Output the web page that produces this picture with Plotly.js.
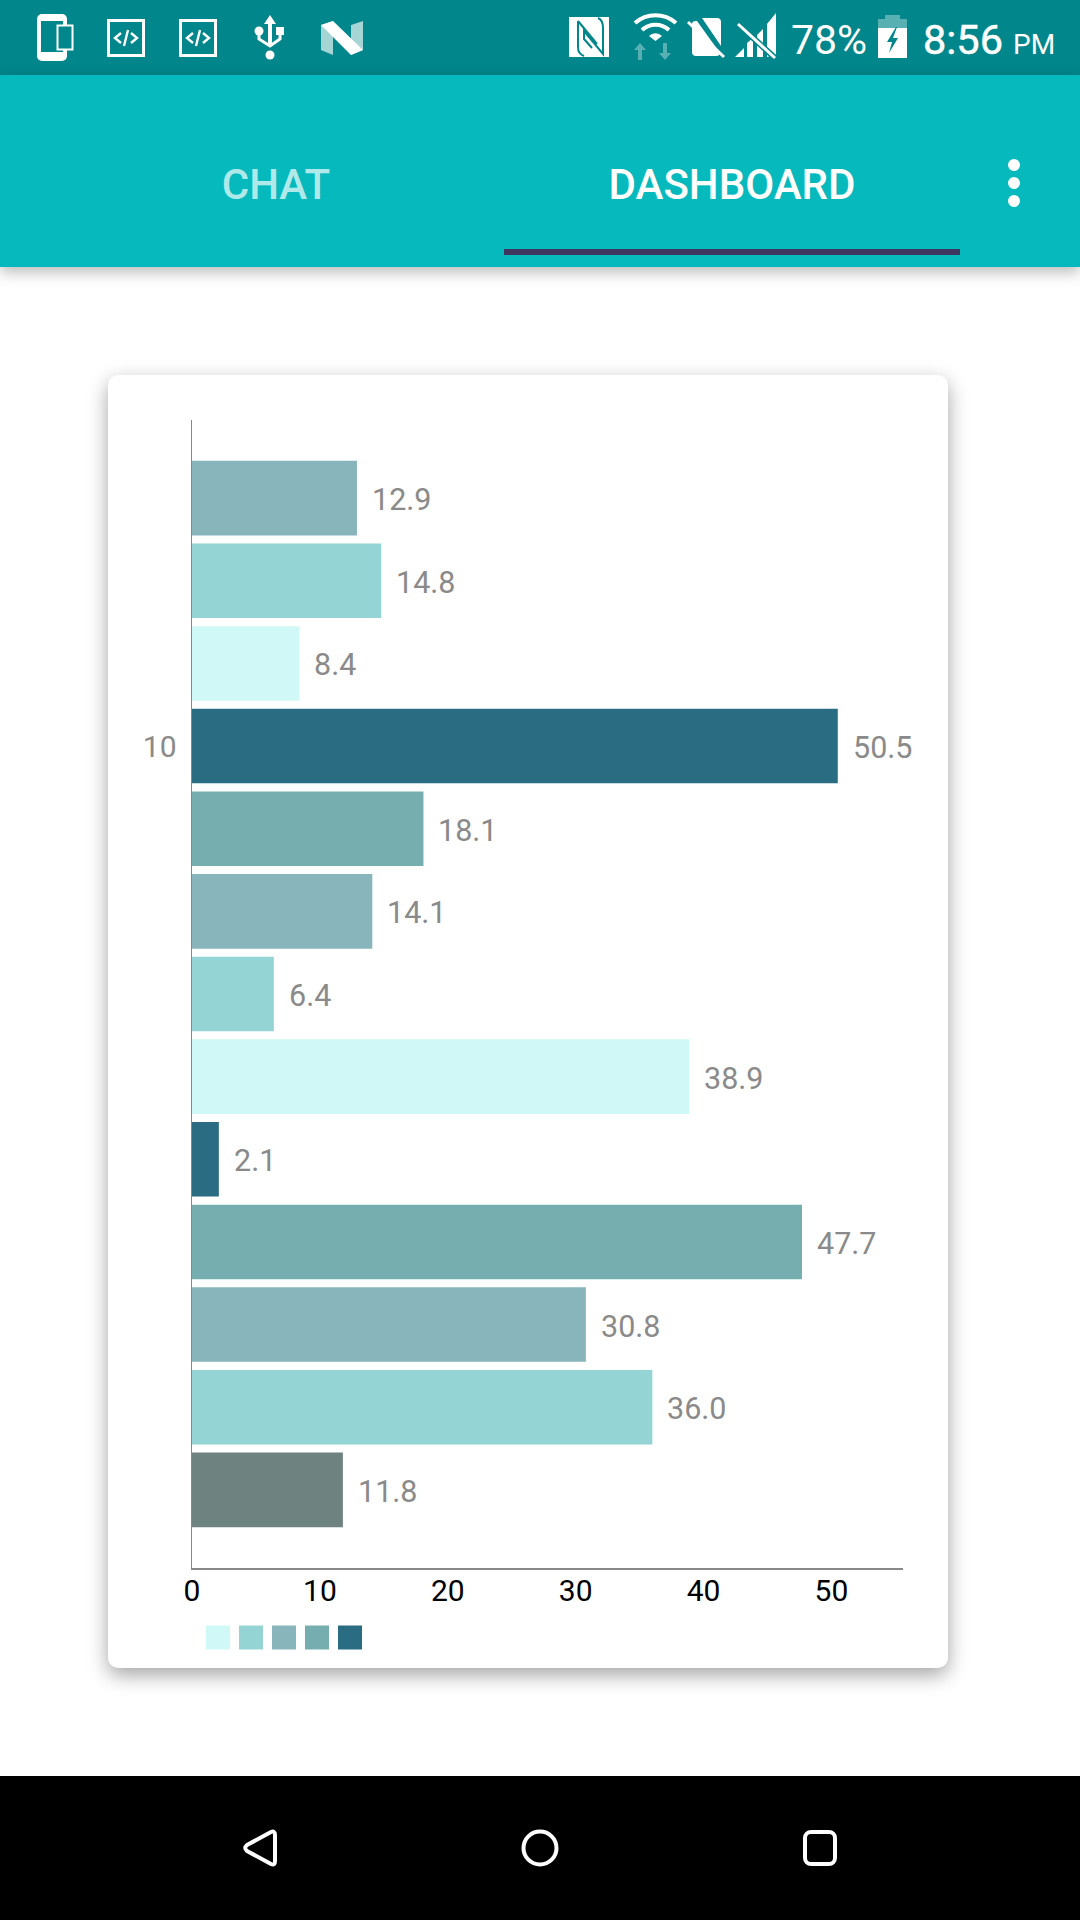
<!DOCTYPE html>
<html><head><meta charset="utf-8">
<script src="https://cdn.plot.ly/plotly-3.0.1.min.js"></script>
<style>
html,body{margin:0;padding:0;background:#fff;width:1080px;height:1920px;overflow:hidden;font-family:Roboto,sans-serif}
#status{position:absolute;left:0;top:0;width:1080px;height:75px;background:#00868b}
#bar{position:absolute;left:0;top:75px;width:1080px;height:192px;background:#05b9bd;box-shadow:0 5px 14px rgba(0,0,0,.28)}
#card{position:absolute;left:108px;top:375px;width:840px;height:1293px;background:#fff;border-radius:10px;box-shadow:0 7px 20px rgba(0,0,0,.36)}
#nav{position:absolute;left:0;top:1776px;width:1080px;height:144px;background:#000}
#chrome{position:absolute;left:0;top:0;width:1080px;height:1920px}
#chart{position:absolute;left:0;top:0;width:1080px;height:1920px}
</style></head><body>
<div id="status"></div><div id="bar"></div><div id="nav"></div><div id="card"></div>
<svg id="chrome" viewBox="0 0 1080 1920" xmlns="http://www.w3.org/2000/svg">
 <!-- phone pair -->
 <rect x="37" y="14" width="30" height="47" rx="5" fill="#fff"/>
 <rect x="41" y="21" width="22" height="31" fill="#00868b"/>
 <rect x="57.5" y="25.5" width="15" height="24" fill="#00868b" stroke="#fff" stroke-width="2"/>
 <!-- code boxes -->
 <g fill="none" stroke="#fff">
  <rect x="108.5" y="20.5" width="35" height="35" stroke-width="3"/>
  <path d="M121 33l-6 5 6 5M131 33l6 5-6 5M128 30l-4 16" stroke-width="2.4"/>
  <rect x="180.5" y="20.5" width="35" height="35" stroke-width="3"/>
  <path d="M193 33l-6 5 6 5M203 33l6 5-6 5M200 30l-4 16" stroke-width="2.4"/>
 </g>
 <!-- usb -->
 <path d="M270 15l6 9h-4v22h-4V24h-4z" fill="#fff"/>
 <circle cx="270" cy="55" r="4.5" fill="#fff"/>
 <circle cx="259" cy="31" r="4.5" fill="#fff"/>
 <rect x="276" y="27" width="8" height="8" fill="#fff"/>
 <path d="M259 33v6l11 7 10-7v-6" fill="none" stroke="#fff" stroke-width="3"/>
 <!-- N logo -->
 <path d="M321 25l12 -4v34l-12-5z" fill="#fff" opacity=".65"/>
 <path d="M351 25l12-4v29l-12 5z" fill="#fff" opacity=".65"/>
 <path d="M321 25l12-4 30 29-12 5z" fill="#fff"/>
 <!-- NFC -->
 <rect x="569" y="17" width="40" height="40" fill="#fff"/>
 <path d="M578 21V47Q578 54 584 56M578 21L597 44M598 18Q603 20 603 28V54L584 31V39L592 48" fill="none" stroke="#00868b" stroke-width="2"/>
 <!-- wifi -->
 <g fill="none" stroke="#fff" stroke-width="4">
  <path d="M635 23a31 31 0 0 1 41 0"/><path d="M642 30a20 20 0 0 1 27 0"/>
 </g>
 <path d="M649 36a9 9 0 0 1 13 0l-6.500 5z" fill="#fff"/>
 <path d="M640 43l6 7h-4v10h-4V50h-4zM665 60l6-7h-4V43h-4v10h-4z" fill="#fff" opacity=".35"/>
 <!-- sim off -->
 <path d="M692 24v28q0 4 4 4h20q4 0 4-3L697 21h-1q-4 0-4 3zM702 18h15q4 0 4 4v24z" fill="#fff"/>
 <path d="M688 22l36 35" stroke="#fff" stroke-width="3"/>
 <!-- signal off -->
 <path d="M735 57l9-9v9zM747 57v-14l6-5v19zM757 57V35l6-6v28zM767 57V24l9-11v42z" fill="#fff"/>
 <path d="M738 24l37 34" stroke="#00868b" stroke-width="6"/>
 <path d="M738 24l37 34" stroke="#fff" stroke-width="3"/>
 <!-- battery -->
 <path d="M885 15h15v4h7v9h-29v-9h7z" fill="#fff" opacity=".35"/>
 <path d="M878 28h29v30h-29z" fill="#fff"/>
 <path d="M896 27l-9 15h5l-3 11 9-15h-5l4-11z" fill="#00868b"/>
 <text x="791" y="54" font-family="Roboto" font-size="41" font-weight="400" fill="#fff">78%</text>
 <text x="923" y="54" font-family="Roboto" font-size="41.500" font-weight="400" fill="#fff" stroke="#fff" stroke-width=".5">8:56</text>
 <text x="1013" y="54" font-family="Roboto" font-size="28" font-weight="400" fill="#fff">PM</text>
 <!-- tabs -->
 <text x="276" y="199" text-anchor="middle" font-family="Roboto" font-size="42" font-weight="500" fill="#fff" fill-opacity=".7">CHAT</text>
 <text x="732" y="199" text-anchor="middle" font-family="Roboto" font-size="42" font-weight="500" fill="#fff">DASHBOARD</text>
 <rect x="504" y="249" width="456" height="6" fill="#3e3560"/>
 <circle cx="1014" cy="165" r="6" fill="#fff"/><circle cx="1014" cy="183" r="6" fill="#fff"/><circle cx="1014" cy="201" r="6" fill="#fff"/>
 <!-- nav -->
 <g fill="none" stroke="#fff" stroke-width="4" stroke-linejoin="round">
  <path d="M271 1832Q275 1830.500 275 1835V1861Q275 1866 271 1864L247 1851Q243.500 1848 247 1845Z"/>
  <circle cx="540" cy="1848" r="16.500"/>
  <rect x="805" y="1832" width="30" height="32" rx="6"/>
 </g>
</svg>
<div id="chart"></div>
<script>
var positions = [13,12,11,10,9,8,7,6,5,4,3,2,1];
var values = [12.9,14.8,8.4,50.5,18.1,14.1,6.4,38.9,2.1,47.7,30.8,36.0,11.8];
var barColors = ['#88b4bb','#94d4d4','#cff8f6','#2a6d82','#76aeaf','#88b4bb','#94d4d4','#cff8f6','#2a6d82','#76aeaf','#88b4bb','#94d4d4','#6e8380'];
var legendColors = ['#cff8f6','#94d4d4','#88b4bb','#76aeaf','#2a6d82'];
var xTicks = [0,10,20,30,40,50];
var yTicks = [10];

var labelAnnotations = values.map(function(v,i){
  return {x:v,y:positions[i],text:v.toFixed(1),xref:'x',yref:'y',xanchor:'left',yanchor:'middle',
    xshift:13,yshift:-1.500,showarrow:false,font:{family:'Roboto',size:30.500,color:'#8a8a8a'}};
});
var legendShapes = legendColors.map(function(c,i){
  return {type:'rect',xref:'paper',yref:'paper',xsizemode:'pixel',ysizemode:'pixel',xanchor:0,yanchor:0,
    x0:14+33*i,x1:38+33*i,y0:-57.500,y1:-81.500,fillcolor:c,line:{width:0},layer:'above'};
});
Plotly.newPlot('chart',[{
  type:'bar',orientation:'h',x:values,y:positions,
  marker:{color:barColors,line:{width:0}},hoverinfo:'skip',cliponaxis:false
}],{
  width:1080,height:1920,
  margin:{l:192,r:177,t:420,b:351.500,pad:0},
  paper_bgcolor:'rgba(0,0,0,0)',plot_bgcolor:'rgba(0,0,0,0)',
  showlegend:false,bargap:0.098,
  font:{family:'Roboto'},
  xaxis:{range:[0,55.6],tickmode:'array',tickvals:xTicks,ticktext:xTicks.map(String),showgrid:false,zeroline:false,
    showline:true,linecolor:'#888888',linewidth:1.500,ticks:'',ticklen:0,
    tickfont:{family:'Roboto',size:30,color:'#000'},layer:'below traces',ticklabelstandoff:-5},
  yaxis:{range:[0.055,13.945],tickmode:'array',tickvals:yTicks,ticktext:yTicks.map(String),showgrid:false,zeroline:false,
    showline:true,linecolor:'#888888',linewidth:1.500,ticks:'',ticklen:0,
    tickfont:{family:'Roboto',size:30,color:'#8a8a8a'},layer:'below traces',ticklabelstandoff:8},
  annotations:labelAnnotations,shapes:legendShapes
},{staticPlot:true,displayModeBar:false});
</script>
</body></html>
